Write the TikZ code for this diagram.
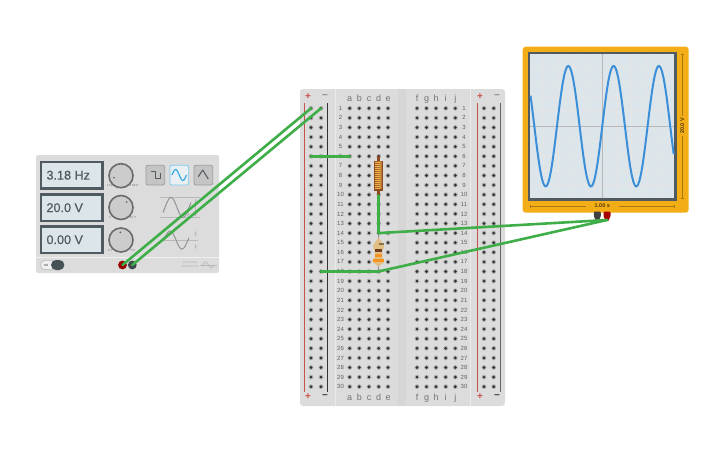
\documentclass[tikz,border=0pt]{standalone}
\usepackage{fontspec}
\setmainfont{Liberation Sans}
\newfontfamily\readfont[FakeBold=0.5]{Liberation Sans}
\usepackage{tikz}
\usetikzlibrary{calc, arrows.meta}
\usepackage{tkz-euclide}

\definecolor{panel}{HTML}{DCDCDC}
\definecolor{screen}{HTML}{DBE5EA}
\definecolor{slate}{HTML}{4F5B60}
\definecolor{jumper}{HTML}{3FAE49}
\definecolor{amber}{HTML}{F2AD17}
\definecolor{trace}{HTML}{3B8FD9}
\definecolor{skyline}{HTML}{38AEE8}
\definecolor{railred}{HTML}{C8504C}
\definecolor{copper}{HTML}{8B4A20}
\definecolor{coilgold}{HTML}{EDB04A}
\definecolor{bodytan}{HTML}{E0BE84}
\definecolor{bandorange}{HTML}{F7931E}

\tikzset{
	wire/.style={draw=jumper, line width=2.6pt, line cap=round},
	readout/.style={draw=slate, line width=2.2pt, fill=screen},
	readtext/.style={anchor=west, text=slate, font=\readfont\fontsize{12.6}{14}\selectfont},
	knob/.style={draw=black!58, line width=1.6pt, fill=black!20},
	knobmark/.style={text=black!55, font=\fontsize{3}{3}\selectfont},
	wavebtn/.style={draw=black!38, line width=0.8pt, fill=black!23, rounded corners=2pt},
	icon/.style={draw=slate, line width=1pt, line join=round},
	diagline/.style={draw=black!28, line width=0.9pt},
	diagwave/.style={draw=black!42, line width=1pt},
	boardnum/.style={text=black!62, font=\fontsize{6}{7}\selectfont},
	boardlet/.style={anchor=base, text=black!55, font=\fontsize{9}{10}\selectfont},
	railsign/.style={font=\bfseries\fontsize{10}{10}\selectfont},
	scaletick/.style={draw=amber!70!black, line width=0.6pt},
	scalelabel/.style={text=black!65!amber, font=\bfseries\fontsize{5.5}{6}\selectfont}
}

\begin{document}
\begin{tikzpicture}[x=1pt, y=-1pt]
	\useasboundingbox (0,0) rectangle (725,453);

	\fill[panel, rounded corners=2pt] (36,155) rectangle (219,273);
	\draw[black!6, line width=0.6pt] (36,257.5) -- (219,257.5);

	\draw[readout] (41,162) rectangle (102.5,188.5);
	\draw[readout] (41,194.5) rectangle (102.5,221);
	\draw[readout] (41,226.5) rectangle (102.5,253);
	\node[readtext] (freqText) at (43,175.2) {3.18 Hz};
	\node[readtext] (ampText) at (43,207.7) {20.0 V};
	\node[readtext] (dcText) at (43,239.7) {0.00 V};

	\draw[knob] (121,175.7) circle (12);
	\draw[knob] (121,207.5) circle (12);
	\draw[knob] (121,240) circle (12);
	\fill[slate] (114,177.7) circle (0.9);
	\fill[slate] (126.7,202) circle (0.9);
	\fill[slate] (120.3,232.3) circle (0.9);
	\node[knobmark] (freqLow) at (110,185.3) {1 Hz};
	\node[knobmark] (freqHigh) at (134,185.3) {1 MHz};
	\node[knobmark] (ampLow) at (110,217.3) {5};
	\node[knobmark] (ampHigh) at (133,217.3) {10 V};
	\node[knobmark] (dcLow) at (110,250) {-5 V};
	\node[knobmark] (dcHigh) at (133,250) {5 V};

	\draw[wavebtn] (146,165.3) rectangle (164.7,185);
	\draw[wavebtn, draw=skyline!65, fill=screen!60!white] (170,165.3) rectangle (188.7,185);
	\draw[wavebtn] (194,165.3) rectangle (212.7,185);
	\draw[icon] (150.7,171) -- (155,171) -- (155,178.5) -- (160,178.5) -- (160,173);
	\draw[icon, draw=skyline, line width=1.2pt] plot[smooth, domain=172:186.5, samples=30] (\x,{175-5.5*sin(360*(\x-172)/14.5)});
	\draw[icon] (198.3,176.7) -- (202.7,170) -- (208.3,179);

	\draw[diagline] (160,197.7) -- (200,197.7);
	\draw[diagline] (160,217.3) -- (200,217.3);
	\draw[diagwave] plot[smooth, domain=163:191, samples=40] (\x,{207.5-10*sin(360*(\x-165)/24)});
	\draw[diagline, {Stealth[length=3pt]}-{Stealth[length=3pt]}] (195.7,198.5) -- (195.7,216.5);
	\draw[diagline, -{Stealth[length=3pt]}] (188,211) -- (188,216.5);
	\draw[diagline] (160,240) -- (198,240);
	\draw[diagwave] plot[smooth, domain=164:189, samples=40] (\x,{240-9*sin(360*(\x-164)/24)});
	\draw[diagline, -{Stealth[length=3pt]}] (195.7,236) -- (195.7,231);
	\draw[diagline, -{Stealth[length=3pt]}] (195.7,244) -- (195.7,249);

	\draw[black!28, fill=black!6, line width=0.6pt, rounded corners=4.5pt] (40.6,260.3) rectangle (64,269.7);
	\fill[slate!90!black, rounded corners=5pt] (51,260) rectangle (64.3,270);
	\node[knobmark, font=\bfseries\fontsize{3}{3}\selectfont] (switchText) at (46,265) {ON};
	\node[text=black!30, align=center, font=\fontsize{2.8}{3.2}\selectfont] (brandText) at (190,264.5) {FUNCTION\\GENERATOR};
	\draw[black!28, line width=0.7pt] plot[smooth, domain=203:214, samples=20] (\x,{265-3*sin(360*(\x-203)/11)});
	\draw[black!28, line width=0.7pt] (200,265) -- (217,265);

	\fill[red!60!black] (122.5,265) circle (4.4);
	\fill[slate!80!black] (132.3,265) circle (4.4);

	\fill[panel, rounded corners=3pt] (300,89) rectangle (505,406);
	\fill[black!16] (398,89) rectangle (405.7,406);
	\draw[black!8, line width=0.6pt] (335.7,89) -- (335.7,406);
	\draw[black!8, line width=0.6pt] (470,89) -- (470,406);

	\draw[railred, line width=1pt] (304.3,103) -- (304.3,392);
	\draw[black!80, line width=1pt] (327.3,103) -- (327.3,392);
	\draw[railred, line width=1pt] (477.3,103) -- (477.3,392);
	\draw[black!60, line width=1pt] (500.3,103) -- (500.3,392);

	\foreach \r [evaluate=\r as \rowy using 108.3+9.6*(\r-1)] in {1,...,30} {
		\foreach \c in {311,321,349.7,359.3,369,378.7,388,417,426.5,436,445.7,455.3,484,493.7} {
			\fill[black!28] (\c,\rowy) circle (2.5);
			\fill[black!80] (\c,\rowy) circle (1.6);
		}
		\node[boardnum] (numL\r) at (340.5,\rowy) {\r};
		\node[boardnum] (numR\r) at (464,\rowy) {\r};
	}

	\foreach \c/\l in {349.7/a,359.3/b,369/c,378.7/d,388/e,417/f,426.5/g,436/h,445.7/i,455.3/j} {
		\node[boardlet] (top\l) at (\c,101) {\l};
		\node[boardlet] (bot\l) at (\c,400) {\l};
	}

	\node[railsign, text=railred] (plusTL) at (308,97) {+};
	\node[railsign, text=black!45] (minusTL) at (325,97) {\textminus};
	\node[railsign, text=railred] (plusTR) at (480,97) {+};
	\node[railsign, text=black!45] (minusTR) at (497,97) {\textminus};
	\node[railsign, text=railred] (plusBL) at (308,397) {+};
	\node[railsign, text=black!75] (minusBL) at (325,397) {\textminus};
	\node[railsign, text=railred] (plusBR) at (480,397) {+};
	\node[railsign, text=black!75] (minusBR) at (497,397) {\textminus};

	\draw[copper, line width=2.4pt] (378.5,156) -- (378.5,195);
	\fill[copper] (374,161) rectangle (382.6,191);
	\foreach \s in {0,...,13} {
		\draw[coilgold, line width=1.25pt] (375,{162.5+2*\s}) -- (381.6,{162+2*\s});
	}

	\draw[black!45, line width=1.6pt] (378.5,233) -- (378.5,272);
	\fill[bodytan] (378.5,237.5) -- (383.8,245) -- (383.8,248) -- (382.2,251) -- (382.2,257) -- (383.8,260) -- (383.8,262.5) -- (378.5,266.5) -- (373.3,262.5) -- (373.3,260) -- (374.9,257) -- (374.9,251) -- (373.3,248) -- (373.3,245) -- cycle;
	\fill[black!40!bodytan] (378.5,243) rectangle (383.6,245);
	\fill[copper!85!black] (374.9,249.4) rectangle (382.2,252.2);
	\fill[bandorange] (374.9,254.2) rectangle (382.2,256.8);
	\fill[bandorange] (373.3,259.3) rectangle (383.8,262.3);

	\fill[amber, rounded corners=3pt] (522.7,46.7) rectangle (688.7,212.7);
	\draw[draw=slate, line width=2.4pt, fill=screen] (529,53) rectangle (675.3,199.3);
	\foreach \i in {1,...,9} {
		\draw[black!10, line width=0.6pt] ({529+14.63*\i},54) -- ({529+14.63*\i},198.3);
		\draw[black!10, line width=0.6pt] (530,{53+14.63*\i}) -- (674.3,{53+14.63*\i});
	}
	\draw[black!28, line width=0.7pt] (602.2,54) -- (602.2,198.3);
	\draw[black!28, line width=0.7pt] (530,126.2) -- (674.3,126.2);
	\draw[trace, line width=2pt] plot[smooth, domain=530.5:673.7, samples=160] (\x,{126.2-60.2*cos((\x-568.3)/45.3*360)});

	\draw[scaletick] (530.3,204.5) -- (530.3,207.5) (530.3,206) -- (586.3,206);
	\draw[scaletick] (619,206) -- (674.7,206) (674.7,204.5) -- (674.7,207.5);
	\draw[scaletick] (680.8,54) -- (683.8,54) (682.3,54) -- (682.3,116);
	\draw[scaletick] (682.3,136) -- (682.3,198.7) (680.8,198.7) -- (683.8,198.7);
	\node[scalelabel] (timeText) at (602.3,206) {1.00 s};
	\node[scalelabel, rotate=90] (voltText) at (682.3,126) {20.0 V};

	\fill[black!75, rounded corners=1pt] (593.8,211.6) rectangle (600.8,216.5);
	\fill[black!75] (593.8,216) -- (600.8,216) -- (598.9,220.5) -- (595.7,220.5) -- cycle;
	\fill[red!65!black, rounded corners=1pt] (603.5,211.6) rectangle (610.5,216.5);
	\fill[red!65!black] (603.5,216) -- (610.5,216) -- (608.6,220.5) -- (605.4,220.5) -- cycle;

	\tkzDefPoints{122.5/265/FGplus,132.3/265/FGminus,311/108.3/railP,321/108.3/railN}
	\tkzDefPoints{311/156.3/railSix,349.7/156.3/aSix,378.5/195.5/coilEnd,378.5/233.1/dFourteen}
	\tkzDefPoints{321/271.5/railEighteen,378.5/271.5/dEighteen,607/220/scopeProbe}

	\tkzDrawSegments[wire](FGplus,railP FGminus,railN railSix,aSix)
	\tkzDrawSegments[wire](coilEnd,dFourteen dFourteen,scopeProbe)
	\tkzDrawSegments[wire](railEighteen,dEighteen dEighteen,scopeProbe)
\end{tikzpicture}
\end{document}
